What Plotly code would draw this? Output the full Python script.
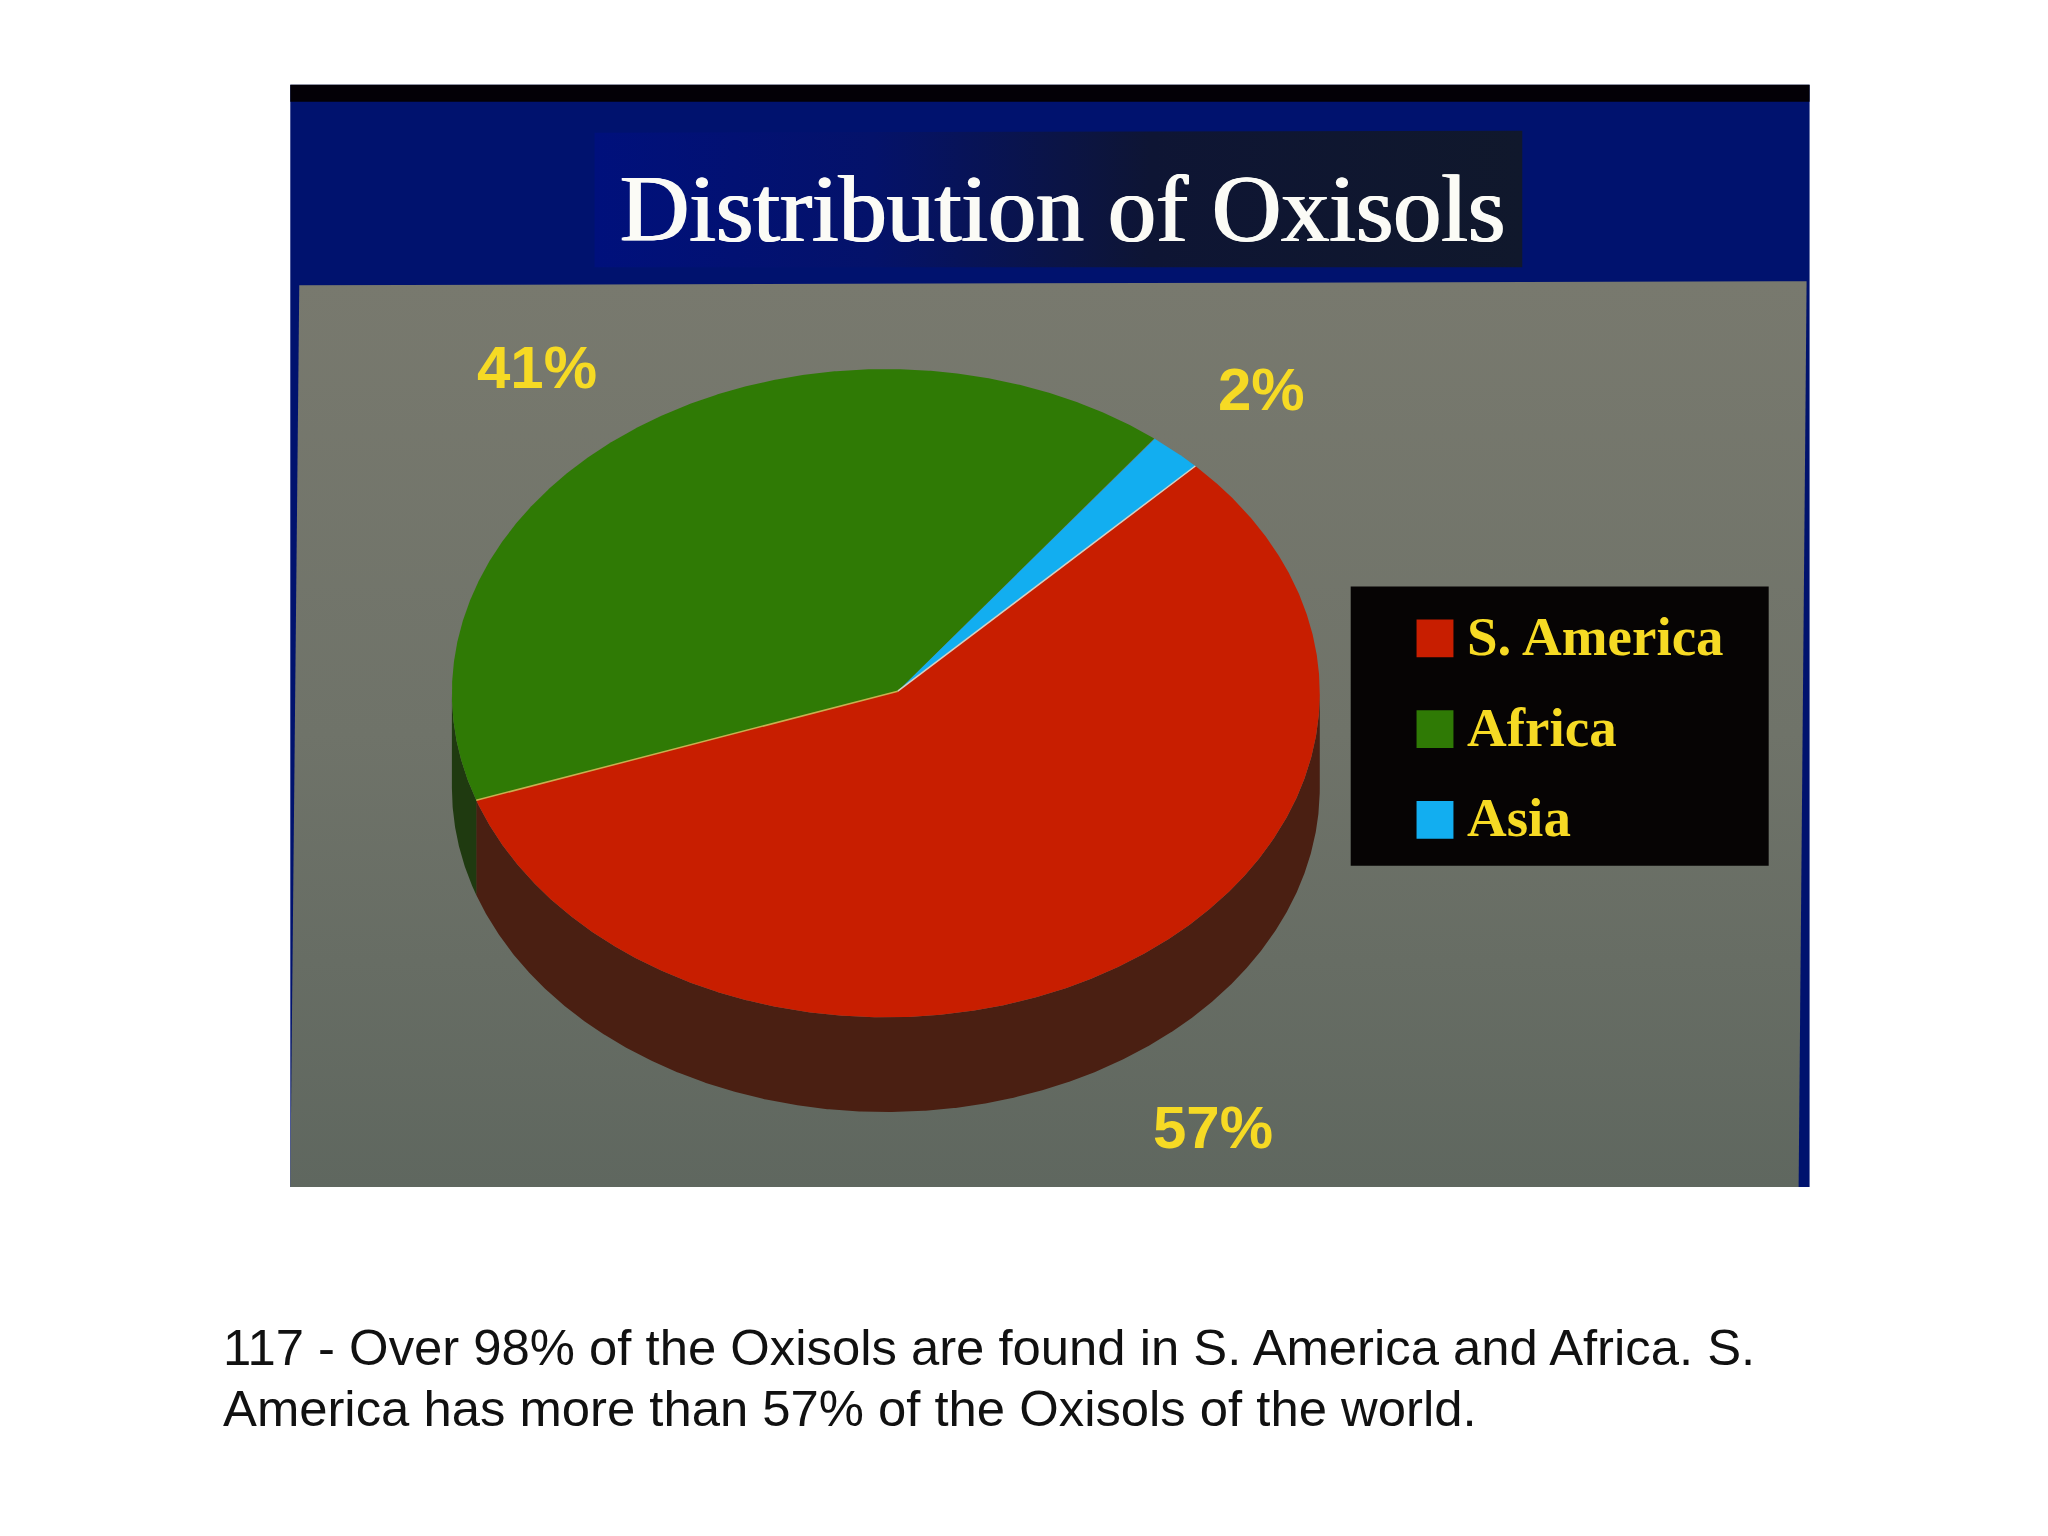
import numpy as np
import plotly.graph_objects as go

# data
regions = ["S. America", "Africa", "Asia"]
shares = [57, 41, 2]
pct_labels = ["57%", "41%", "2%"]
top_colors = ["#c81e00", "#2f7a05", "#12aef0"]
wall_colors = ["#4a1f12", "#1f3a10", "#0b5f85"]
title_text = "Distribution of Oxisols"
caption_lines = [
    "117 - Over 98% of the Oxisols are found in S. America and Africa. S.",
    "America has more than 57% of the Oxisols of the world.",
]

# pie geometry in page pixels
cx, cy = 888, 695
rx, ry = 435, 325
apex_x, apex_y = 900, 693
depth = 95
start_angle = 44.5
label_pos = [(1216, 1130), (538, 368), (1265, 391)]
swatch_y = [640, 731, 822]
YELLOW = "#f6da24"

fig = go.Figure()

# grey slide panel
fig.add_trace(go.Scatter(
    x=[300, 1811, 1803, 291, 300], y=[286, 282, 1190, 1190, 286],
    fill="toself", mode="lines", line=dict(width=0), hoverinfo="skip", showlegend=False,
    fillgradient=dict(type="vertical", colorscale=[[0, "#5f675f"], [0.5, "#6f7369"], [1, "#78796e"]]),
))
# title plate
fig.add_trace(go.Scatter(
    x=[596, 1526, 1526, 596, 596], y=[133, 131, 268, 268, 133],
    fill="toself", mode="lines", line=dict(width=0), hoverinfo="skip", showlegend=False,
    fillgradient=dict(type="horizontal", colorscale=[[0, "#00107c"], [0.3, "#04126a"], [0.6, "#0e1534"], [1, "#10182c"]]),
))

# walls and tops, all angles come from the shares
edges = start_angle - np.cumsum([0] + shares) * 3.6
for i in range(len(shares)):
    t = np.radians(np.arange(edges[i], edges[i + 1] - 0.1, -0.25))
    arc_x = cx + rx * np.cos(t)
    arc_y = cy - ry * np.sin(t)
    low = np.sin(t) <= 0
    if low.any():
        wx, wy = arc_x[low], arc_y[low]
        fig.add_trace(go.Scatter(
            x=np.r_[wx, wx[::-1]], y=np.r_[wy, wy[::-1] + depth],
            fill="toself", mode="lines", line=dict(width=0), fillcolor=wall_colors[i],
            hoverinfo="skip", showlegend=False,
        ))
    fig.add_trace(go.Scatter(
        x=np.r_[apex_x, arc_x, apex_x], y=np.r_[apex_y, arc_y, apex_y],
        fill="toself", mode="lines", line=dict(width=0), fillcolor=top_colors[i],
        name=regions[i], text=f"{regions[i]} {shares[i]}%", hoverinfo="text", showlegend=False,
    ))

# thin pale lines between slices
for a, c in zip(edges[:2], ["#d8cfc0", "#c9b050"]):
    t = np.radians(a)
    fig.add_trace(go.Scatter(
        x=[apex_x, cx + rx * np.cos(t)], y=[apex_y, cy - ry * np.sin(t)],
        mode="lines", line=dict(color=c, width=1.5), hoverinfo="skip", showlegend=False,
    ))

shapes = [
    dict(type="rect", x0=291, x1=1814, y0=85, y1=1190, fillcolor="#00126e", line_width=0, layer="below"),
    dict(type="rect", x0=291, x1=1814, y0=85, y1=102, fillcolor="#030006", line_width=0, layer="below"),
    dict(type="rect", x0=1354, x1=1773, y0=588, y1=868, fillcolor="#060404", line_width=0),
]
for y, c in zip(swatch_y, top_colors):
    shapes.append(dict(type="rect", x0=1420, x1=1457, y0=y - 19, y1=y + 19, fillcolor=c, line_width=0))

annotations = [dict(
    x=1065, y=209, text=title_text, showarrow=False,
    font=dict(family="Liberation Serif", size=96, color="#fbfbf6",
              shadow="1px 0 0 #fbfbf6, -1px 0 0 #fbfbf6"),
)]
for (x, y), lab in zip(label_pos, pct_labels):
    annotations.append(dict(
        x=x, y=y, text=lab, showarrow=False,
        font=dict(family="Liberation Sans", size=60, color=YELLOW, weight="bold"),
    ))
for y, lab in zip(swatch_y, regions):
    annotations.append(dict(
        x=1469, y=y - 2, text=lab, showarrow=False, xanchor="left",
        font=dict(family="Liberation Serif", size=55, color=YELLOW, weight="bold"),
    ))
for y, line in zip([1351, 1412], caption_lines):
    annotations.append(dict(
        x=222, y=y, text=line, showarrow=False, xanchor="left",
        font=dict(family="Liberation Sans", size=50.8, color="#111111"),
    ))

fig.update_layout(
    width=2048, height=1536, margin=dict(l=0, r=0, t=0, b=0),
    paper_bgcolor="white", plot_bgcolor="white",
    xaxis=dict(range=[0, 2053], visible=False, fixedrange=True),
    yaxis=dict(range=[1540, 0], visible=False, fixedrange=True),
    shapes=shapes, annotations=annotations,
)
fig.write_html("out.html", config=dict(displayModeBar=False),
               post_script="document.body.style.margin='0';")
